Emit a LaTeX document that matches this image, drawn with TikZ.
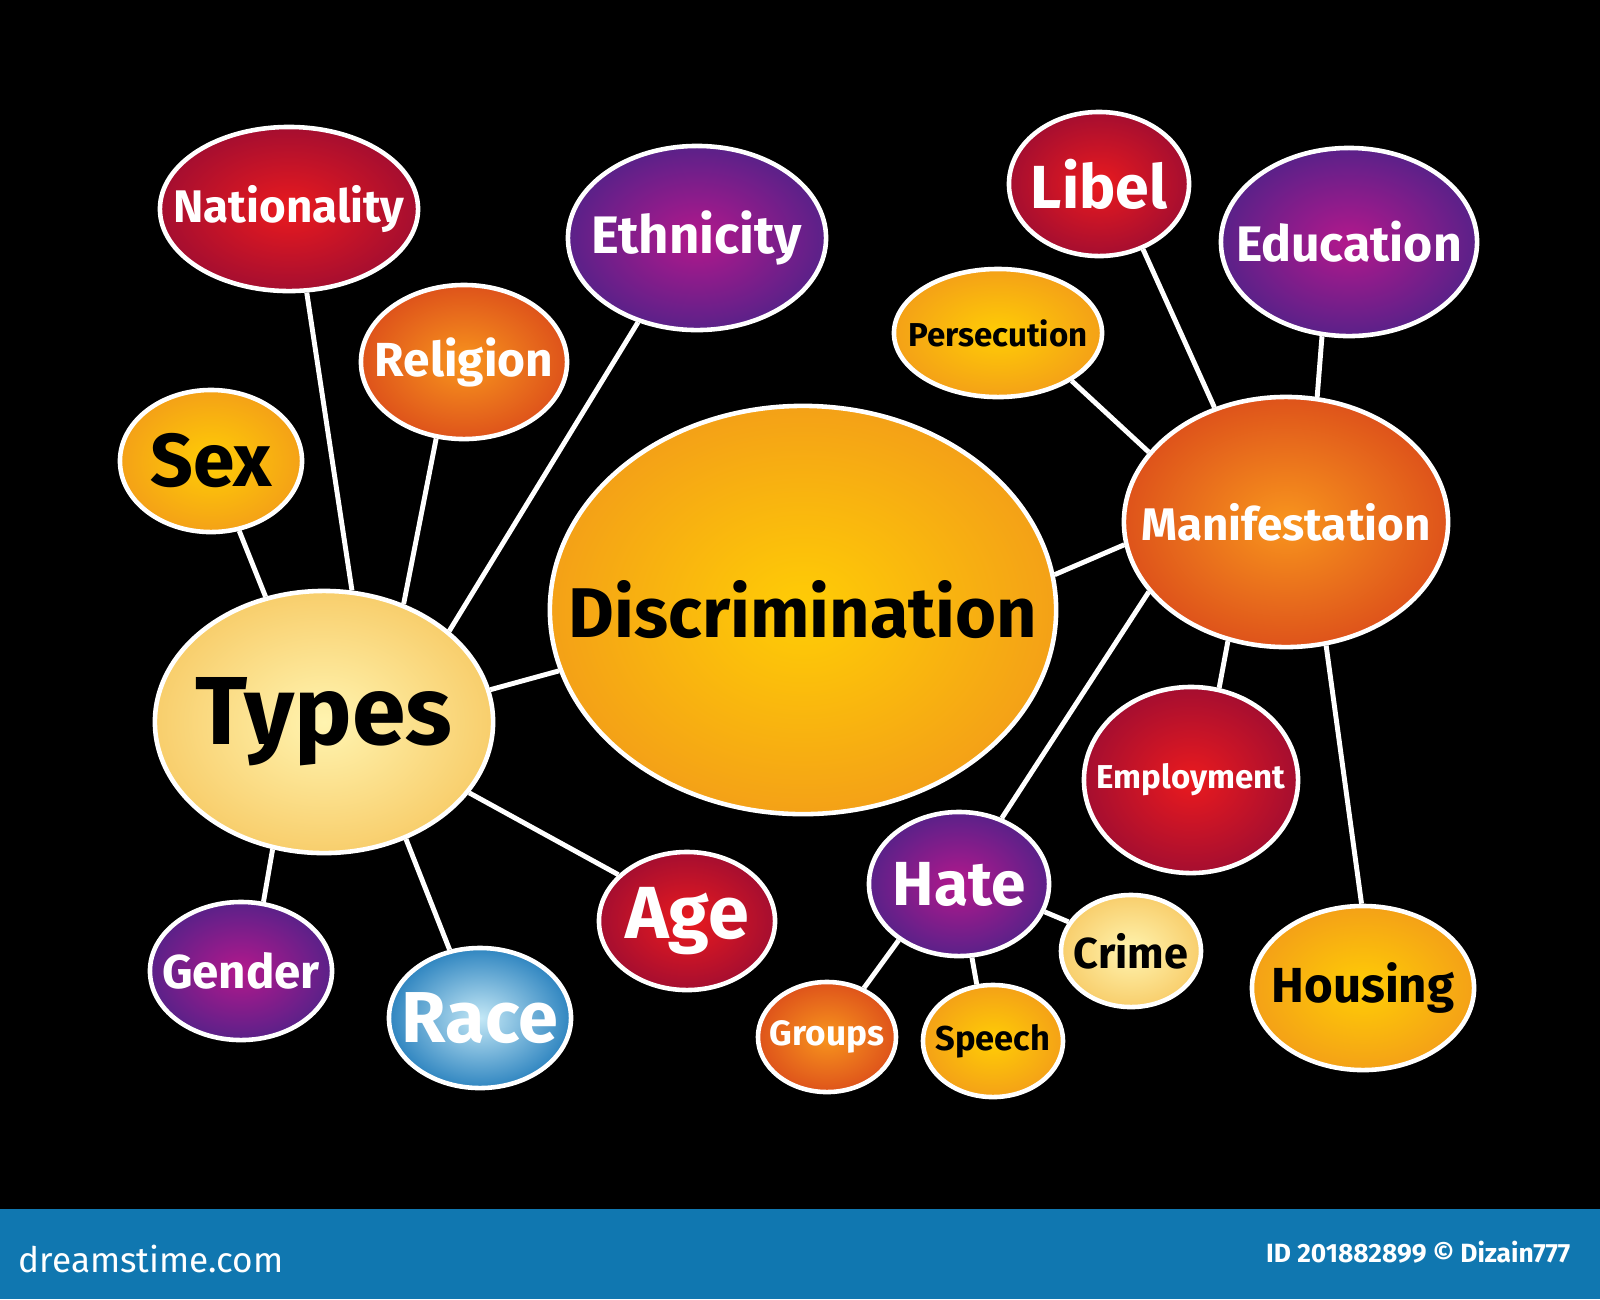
\documentclass[tikz,border=0pt]{standalone}
\usepackage{fontspec}
\setmainfont{Fira Sans}
\usetikzlibrary{shapes.geometric}

\definecolor{redin}{HTML}{EA1A1E}
\definecolor{redout}{HTML}{A50E30}
\definecolor{purin}{HTML}{B3188C}
\definecolor{purout}{HTML}{5A2189}
\definecolor{orain}{HTML}{F8951D}
\definecolor{oraout}{HTML}{DE531B}
\definecolor{goldin}{HTML}{FFCD05}
\definecolor{goldout}{HTML}{F4A117}
\definecolor{creamin}{HTML}{FFF4B0}
\definecolor{creamout}{HTML}{F8CE6C}
\definecolor{bluein}{HTML}{C4E8F6}
\definecolor{blueout}{HTML}{2F85C0}
\definecolor{barblue}{HTML}{1077B0}

% text that takes no width, so the ellipse keeps its own size
\newcommand{\bubtext}[1]{\makebox[0pt]{#1}}

\begin{document}
\begin{tikzpicture}[x=0.01cm,y=-0.01cm,
  bubble/.style 2 args={ellipse,draw=white,line width=1.3pt,inner sep=0pt,
    minimum width=#1*0.2mm,minimum height=#2*0.2mm},
  lbl/.style={font=\fontsize{#1}{#1}\selectfont\bfseries},
  redb/.style={inner color=redin,outer color=redout,text=white},
  purb/.style={inner color=purin,outer color=purout,text=white},
  orab/.style={inner color=orain,outer color=oraout,text=white},
  goldb/.style={inner color=goldin,outer color=goldout,text=black},
  creamb/.style={inner color=creamin,outer color=creamout,text=black},
  blueb/.style={inner color=bluein,outer color=blueout,text=white},
  conn/.style={white,line width=1.4pt}]
\fill[black] (0,0) rectangle (1600,1299);
\fill[barblue] (0,1209) rectangle (1600,1299);
\node[text=white,anchor=west,inner sep=0pt,font=\fontsize{10}{10}\selectfont] (site) at (18,1259) {dreamstime.com};
\node[text=white,anchor=east,inner sep=0pt,font=\fontsize{7.5}{7.5}\selectfont\bfseries] (imgid) at (1571,1252) {ID 201882899 © Dizain777};

% hubs
\node[bubble={253}{204},goldb,lbl=20] (disc) at (803,610) {\bubtext{Discrimination}};
\node[bubble={169}{131},creamb,lbl=27.5] (types) at (324,722) {\bubtext{Types}};
\node[bubble={162}{125},orab,lbl=13] (man) at (1286,522) {\bubtext{Manifestation}};
\node[bubble={90}{72},purb,lbl=17.7] (hate) at (959,884) {\bubtext{Hate}};

% types
\node[bubble={129}{82},redb,lbl=13] (nat) at (289,209) {\bubtext{Nationality}};
\node[bubble={129}{92},purb,lbl=15] (eth) at (697,238) {\bubtext{Ethnicity}};
\node[bubble={103}{77},orab,lbl=13.6] (rel) at (464,362) {\bubtext{Religion}};
\node[bubble={91}{71},goldb,lbl=21.3] (sex) at (211,461) {\bubtext{Sex}};
\node[bubble={91}{69},purb,lbl=13.5] (gen) at (241,971) {\bubtext{Gender}};
\node[bubble={91}{70},blueb,lbl=20.5] (race) at (480,1018) {\bubtext{Race}};
\node[bubble={88}{69},redb,lbl=21] (age) at (687,921) {\bubtext{Age}};

% manifestation
\node[bubble={90}{72},redb,lbl=17.3] (libel) at (1099,184) {\bubtext{Libel}};
\node[bubble={128}{94},purb,lbl=14.2] (edu) at (1349,242) {\bubtext{Education}};
\node[bubble={104}{64},goldb,lbl=9.4] (pers) at (998,333) {\bubtext{Persecution}};
\node[bubble={107}{93},redb,lbl=9.4] (emp) at (1191,780) {\bubtext{Employment}};
\node[bubble={111}{82},goldb,lbl=14] (hous) at (1363,988) {\bubtext{Housing}};

% hate
\node[bubble={70}{56},creamb,lbl=12.3] (crime) at (1131,951) {\bubtext{Crime}};
\node[bubble={69}{55},orab,lbl=10] (grp) at (827,1037) {\bubtext{Groups}};
\node[bubble={70}{56},goldb,lbl=9.8] (spch) at (993,1041) {\bubtext{Speech}};

\draw[conn] (types.11) -- (disc.-166);
\draw[conn] (sex.-68) -- (types.115);
\draw[conn] (nat.-78) -- (types.78);
\draw[conn] (rel.-110) -- (types.56);
\draw[conn] (eth.-125) -- (types.36);
\draw[conn] (types.-112) -- (gen.72);
\draw[conn] (types.-55) -- (race.114);
\draw[conn] (types.-26) -- (age.146);
\draw[conn] (disc.8) -- (man.-172);
\draw[conn] (pers.-33) -- (man.153);
\draw[conn] (libel.-56) -- (man.122);
\draw[conn] (edu.-106) -- (man.76);
\draw[conn] (man.-116) -- (emp.73);
\draw[conn] (man.-72) -- (hous.91);
\draw[conn] (man.-153) -- (hate.57);
\draw[conn] (hate.-18) -- (crime.155);
\draw[conn] (hate.-137) -- (grp.53);
\draw[conn] (hate.-80) -- (spch.106);
\end{tikzpicture}
\end{document}
